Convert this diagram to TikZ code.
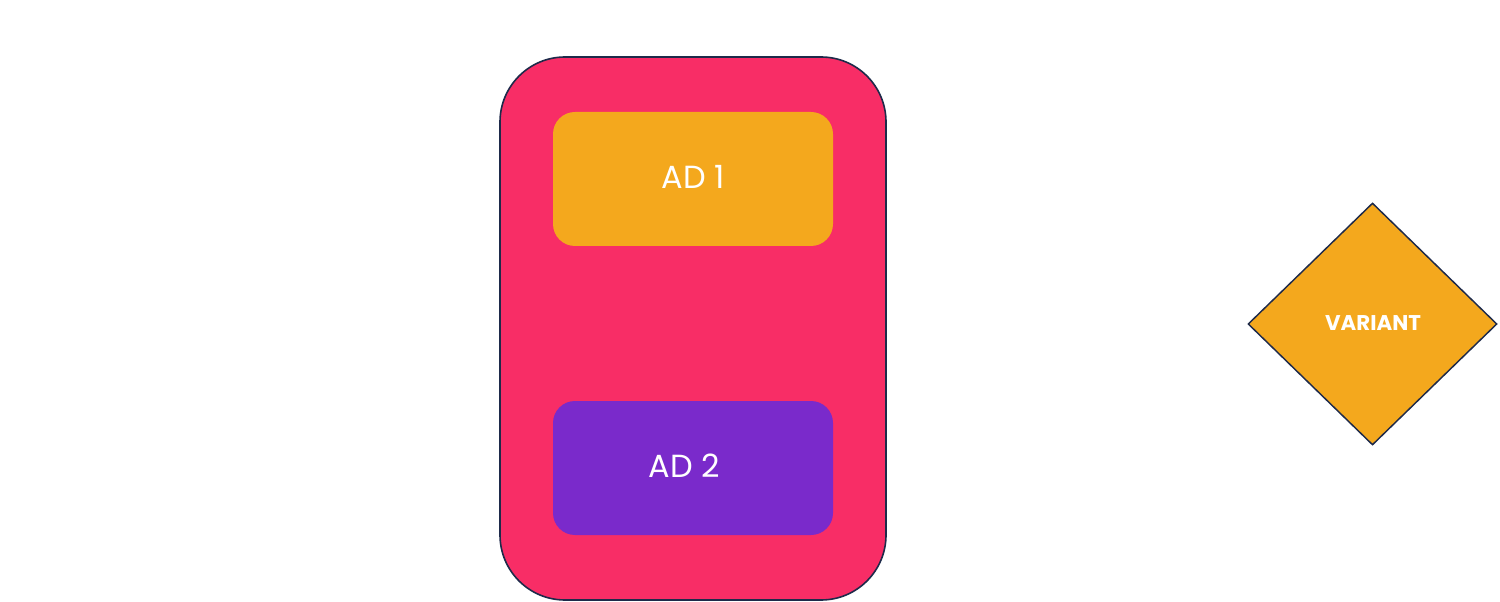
\documentclass[tikz,border=0pt]{standalone}
\usepackage{fontspec}
\setmainfont{Poppins}
\usetikzlibrary{shapes.geometric}
\definecolor{pinkc}{HTML}{F82D66}
\definecolor{orangec}{HTML}{F4A81D}
\definecolor{purplec}{HTML}{7A2ACB}
\definecolor{navyc}{HTML}{1E2A4A}
\begin{document}
\begin{tikzpicture}[x=0.75pt,y=-0.75pt,
  frame/.style={draw=navyc,line width=1.2pt,fill=pinkc,rounded corners=48.75pt,
    minimum width=289.5pt,minimum height=407.25pt,inner sep=0pt},
  adbox/.style={fill=#1,rounded corners=16.5pt,minimum width=210pt,minimum height=100.5pt,inner sep=0pt},
  adtext/.style={text=white,font=\fontsize{24}{28}\selectfont,inner sep=0pt},
  decision/.style={diamond,draw=navyc,line width=1.1pt,fill=orangec,aspect=1,inner sep=0pt,
    minimum width=186.75pt,minimum height=181.5pt},
  dtext/.style={text=white,font=\fontsize{16}{19}\selectfont\bfseries,inner sep=0pt}]
\useasboundingbox (0,0) rectangle (1500,602);
\node[frame] (phone) at (693,328.5) {};
\node[adbox=orangec] (ad1) at (693,179) {};
\node[adbox=purplec] (ad2) at (693,468) {};
\node[adtext] (t1) at (693,177) {AD 1};
\node[adtext] (t2) at (684,466) {AD 2};
\node[decision] (var) at (1372.5,324) {};
\node[dtext] (tv) at (1373,323) {VARIANT};
\end{tikzpicture}
\end{document}
